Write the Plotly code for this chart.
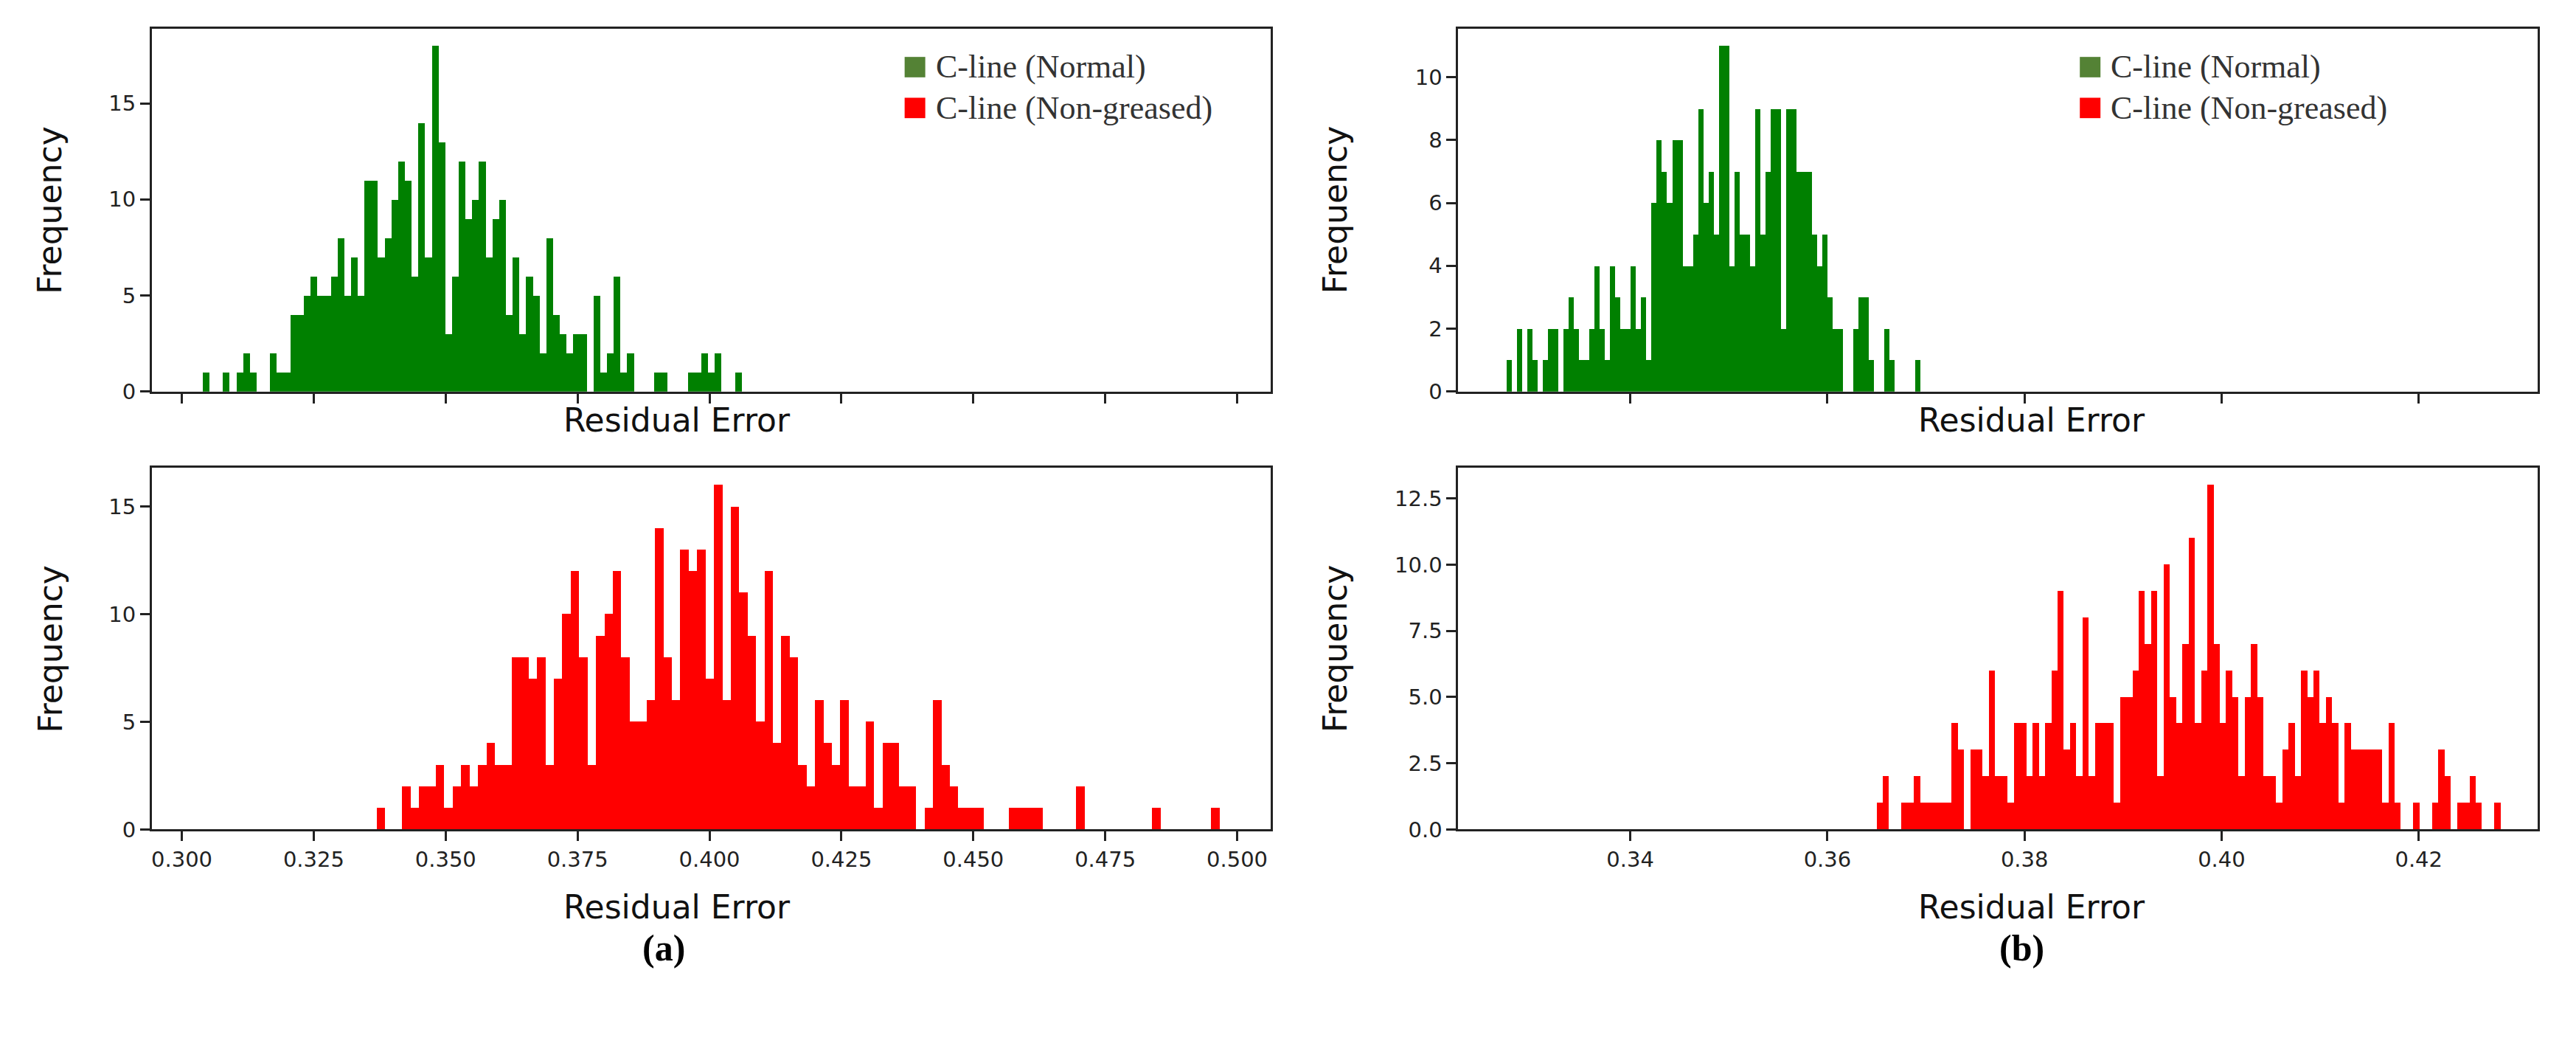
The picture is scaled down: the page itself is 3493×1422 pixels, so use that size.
import numpy as np
import plotly.graph_objects as go

# ---------------- data (histogram counts) ----------------
# (a) top: C-line (Normal), 80 bins between these residual-error limits
tl_limits = [0.30396, 0.40610]
tl_counts = [1, 0, 0, 1, 0, 1, 2, 1, 0, 0,
             2, 1, 1, 4, 4, 5, 6, 5, 5, 6,
             8, 5, 7, 5, 11, 11, 7, 8, 10, 12,
             11, 6, 14, 7, 18, 13, 3, 6, 12, 9,
             10, 12, 7, 9, 10, 4, 7, 3, 6, 5,
             2, 8, 4, 3, 2, 3, 3, 0, 5, 1,
             2, 6, 1, 2, 0, 0, 0, 1, 1, 0,
             0, 0, 1, 1, 2, 1, 2, 0, 0, 1]

# (a) bottom: C-line (Non-greased), 100 bins
bl_limits = [0.33696, 0.49665]
bl_counts = [1, 0, 0, 2, 1, 2, 2, 3, 1, 2,
             3, 2, 3, 4, 3, 3, 8, 8, 7, 8,
             3, 7, 10, 12, 8, 3, 9, 10, 12, 8,
             5, 5, 6, 14, 8, 6, 13, 12, 13, 7,
             16, 6, 15, 11, 9, 5, 12, 4, 9, 8,
             3, 2, 6, 4, 3, 6, 2, 2, 5, 1,
             4, 4, 2, 2, 0, 1, 6, 3, 2, 1,
             1, 1, 0, 0, 0, 1, 1, 1, 1, 0,
             0, 0, 0, 2, 0, 0, 0, 0, 0, 0,
             0, 0, 1, 0, 0, 0, 0, 0, 0, 1]

# (b) top: C-line (Normal), 80 bins
tr_limits = [0.32748, 0.36950]
tr_counts = [1, 0, 2, 0, 2, 1, 0, 1, 2, 2,
             0, 2, 3, 2, 1, 1, 2, 4, 2, 1,
             4, 3, 2, 2, 4, 2, 3, 1, 6, 8,
             7, 6, 8, 8, 4, 4, 5, 9, 6, 7,
             5, 11, 11, 4, 7, 5, 5, 4, 9, 5,
             7, 9, 9, 2, 9, 9, 7, 7, 7, 5,
             4, 5, 3, 2, 2, 0, 0, 2, 3, 3,
             1, 0, 0, 2, 1, 0, 0, 0, 0, 1]

# (b) bottom: C-line (Non-greased), 100 bins
br_limits = [0.36502, 0.42835]
br_counts = [1, 2, 0, 0, 1, 1, 2, 1, 1, 1,
             1, 1, 4, 3, 0, 3, 3, 2, 6, 2,
             2, 1, 4, 4, 2, 4, 2, 4, 6, 9,
             3, 4, 2, 8, 2, 4, 4, 4, 1, 5,
             5, 6, 9, 7, 9, 2, 10, 5, 4, 7,
             11, 4, 6, 13, 7, 4, 6, 5, 2, 5,
             7, 5, 2, 2, 1, 3, 4, 2, 6, 5,
             6, 4, 5, 4, 1, 4, 3, 3, 3, 3,
             3, 1, 4, 1, 0, 0, 1, 0, 0, 1,
             3, 2, 0, 1, 1, 2, 1, 0, 0, 1]

series_names = ["C-line (Normal)", "C-line (Non-greased)"]
left_xticks = [0.300, 0.325, 0.350, 0.375, 0.400, 0.425, 0.450, 0.475, 0.500]
right_xticks = [0.34, 0.36, 0.38, 0.40, 0.42]
ticks_tl = [0, 5, 10, 15]
ticks_bl = [0, 5, 10, 15]
ticks_tr = [0, 2, 4, 6, 8, 10]
ticks_br = [0, 2.5, 5.0, 7.5, 10.0, 12.5]

# ---------------- styling / layout ----------------
W, H = 3493, 1422
GREEN, RED = "#008000", "#ff0000"
LEG_GREEN = "#548235"
AX = "#222222"
TICK_FONT = dict(family="DejaVu Sans", size=29, color="#222222")
LAB_FONT = dict(family="DejaVu Sans", size=44, color="#111111")


def px_x(p):
    return p / W


def px_y(p):
    return 1 - p / H


col_l = [px_x(197), px_x(1714)]
col_r = [px_x(1969), px_x(3433)]
row_t = [px_y(529), px_y(31)]
row_b = [px_y(1130), px_y(634)]


def hist_bar(limits, counts, color, name, xa, ya):
    edges = np.linspace(limits[0], limits[1], len(counts) + 1)
    centers = (edges[:-1] + edges[1:]) / 2
    width = edges[1] - edges[0]
    return go.Bar(x=centers, y=counts, width=width, name=name,
                  marker=dict(color=color, line=dict(width=0)),
                  xaxis=xa, yaxis=ya, showlegend=False)


def xrange_of(*lims):
    lo = min(l[0] for l in lims)
    hi = max(l[1] for l in lims)
    span = hi - lo
    return [lo - 0.05 * span, hi + 0.05 * span]


fig = go.Figure()
fig.add_trace(hist_bar(tl_limits, tl_counts, GREEN, series_names[0], "x", "y"))
fig.add_trace(hist_bar(bl_limits, bl_counts, RED, series_names[1], "x2", "y2"))
fig.add_trace(hist_bar(tr_limits, tr_counts, GREEN, series_names[0], "x3", "y3"))
fig.add_trace(hist_bar(br_limits, br_counts, RED, series_names[1], "x4", "y4"))

left_range = xrange_of(tl_limits, bl_limits)
right_range = [0.32255, 0.43207]

common_axis = dict(showline=True, mirror=True, linecolor=AX, linewidth=3,
                   ticks="outside", ticklen=13, tickwidth=3, tickcolor=AX,
                   showgrid=False, zeroline=False, tickfont=TICK_FONT)


def xaxis(domain, rng, tickvals, fmt, show, anchor):
    return dict(domain=domain, range=rng, tickvals=tickvals,
                ticktext=[fmt.format(v) for v in tickvals],
                showticklabels=show, anchor=anchor, **common_axis)


def yaxis(domain, counts, tickvals, fmt, anchor):
    return dict(domain=domain, range=[0, max(counts) * 1.05], tickvals=tickvals,
                ticktext=[fmt.format(v) for v in tickvals], anchor=anchor,
                **common_axis)


fig.update_layout(
    width=W, height=H, margin=dict(l=0, r=0, t=0, b=0),
    paper_bgcolor="white", plot_bgcolor="white", bargap=0,
    xaxis=xaxis(col_l, left_range, left_xticks, "{:.3f}", False, "y"),
    yaxis=yaxis(row_t, tl_counts, ticks_tl, "{:g}", "x"),
    xaxis2=xaxis(col_l, left_range, left_xticks, "{:.3f}", True, "y2"),
    yaxis2=yaxis(row_b, bl_counts, ticks_bl, "{:g}", "x2"),
    xaxis3=xaxis(col_r, right_range, right_xticks, "{:.2f}", False, "y3"),
    yaxis3=yaxis(row_t, tr_counts, ticks_tr, "{:g}", "x3"),
    xaxis4=xaxis(col_r, right_range, right_xticks, "{:.2f}", True, "y4"),
    yaxis4=yaxis(row_b, br_counts, ticks_br, "{:.1f}", "x4"),
)

annotations = []
# axis titles
for cx in (909, 2747):
    for cy in (568, 1236):
        annotations.append(dict(text="Residual Error", x=px_x(cx), y=px_y(cy),
                                xref="paper", yref="paper", showarrow=False,
                                font=LAB_FONT, xanchor="center", yanchor="middle"))
for cx in (59, 1802):
    for cy in (280, 882):
        annotations.append(dict(text="Frequency", x=px_x(cx), y=px_y(cy),
                                xref="paper", yref="paper", showarrow=False,
                                font=LAB_FONT, textangle=-90,
                                xanchor="center", yanchor="middle"))
# panel captions
for txt, cx in (("<b>(a)</b>", 891), ("<b>(b)</b>", 2733)):
    annotations.append(dict(text=txt, x=px_x(cx), y=px_y(1292), xref="paper",
                            yref="paper", showarrow=False,
                            font=dict(family="Liberation Serif", size=50, color="#000"),
                            xanchor="center", yanchor="middle"))

# manual legends (patch + label) in each top panel
shapes = []
for sq_x0 in (1218, 2812):
    for (name, col), cy in zip(zip(series_names, [LEG_GREEN, RED]), (84, 140)):
        shapes.append(dict(type="rect", xref="paper", yref="paper",
                           x0=px_x(sq_x0), x1=px_x(sq_x0 + 28),
                           y0=px_y(cy + 14), y1=px_y(cy - 14),
                           fillcolor=col, line=dict(width=0)))
        annotations.append(dict(text=name, x=px_x(sq_x0 + 40), y=px_y(cy),
                                xref="paper", yref="paper", showarrow=False,
                                xanchor="left", yanchor="middle",
                                font=dict(family="Liberation Serif", size=44,
                                          color="#333333")))

fig.update_layout(annotations=annotations, shapes=shapes)
fig.write_html("out.html")
